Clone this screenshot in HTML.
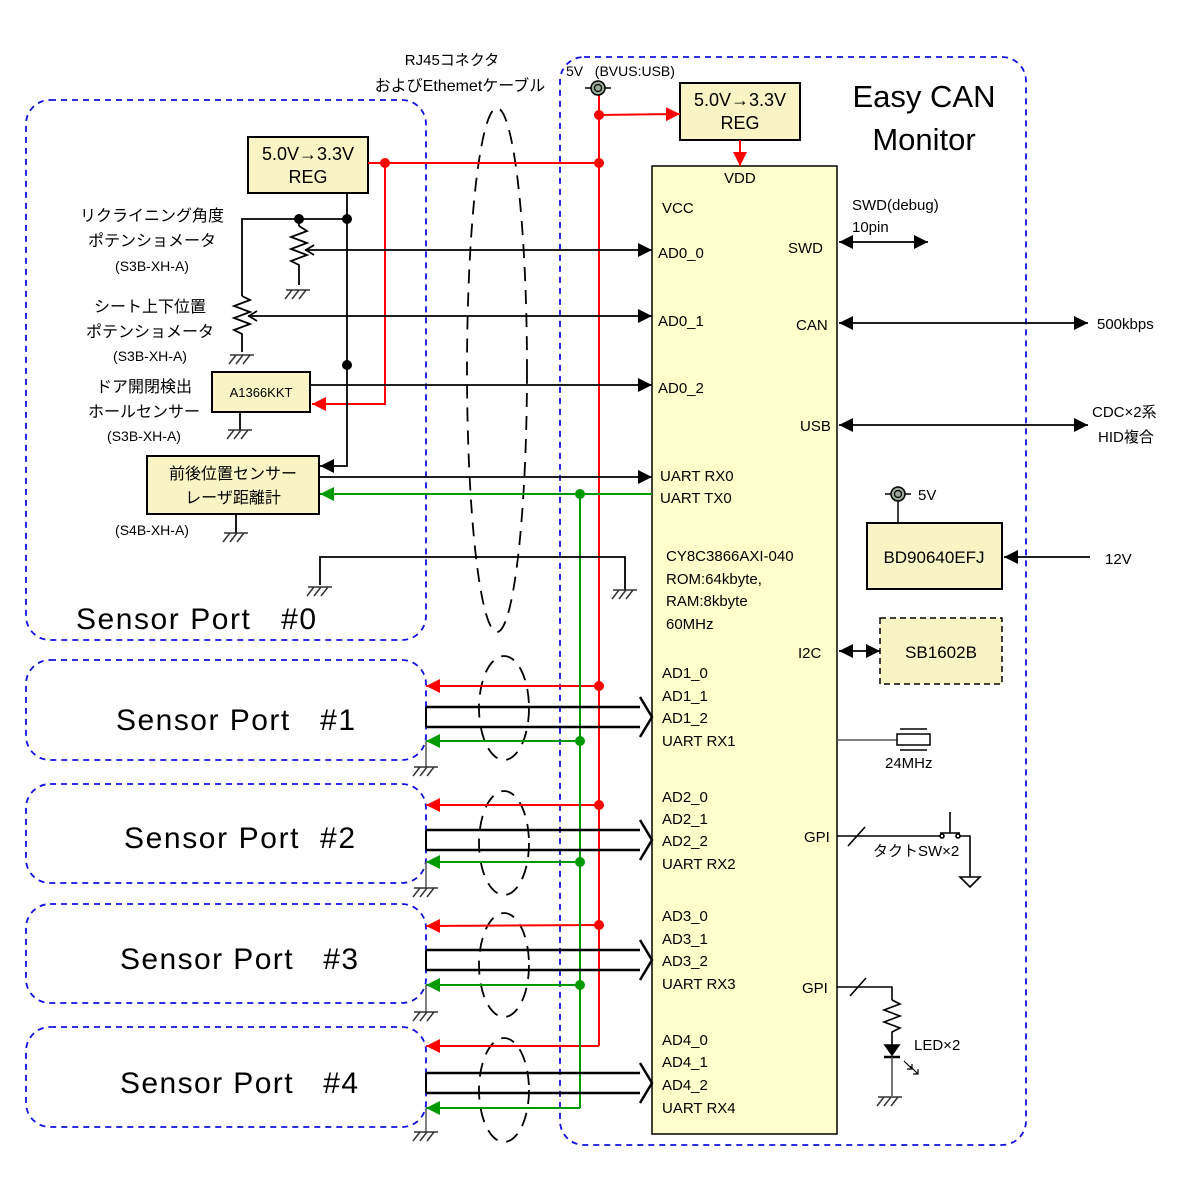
<!DOCTYPE html>
<html><head><meta charset="utf-8"><style>
html,body{margin:0;padding:0;background:#fff}
svg{display:block}
text{font-family:"Liberation Sans","Noto Sans CJK JP",sans-serif;fill:#000;white-space:pre}
</style></head><body>
<svg width="1184" height="1184" viewBox="0 0 1184 1184" xmlns="http://www.w3.org/2000/svg" xml:space="preserve">
<defs>
<marker id="aB" viewBox="0 0 10 10" refX="10" refY="5" markerWidth="14" markerHeight="14" markerUnits="userSpaceOnUse" orient="auto-start-reverse"><path d="M0,0L10,5L0,10z" fill="#000"/></marker>
<marker id="aR" viewBox="0 0 10 10" refX="10" refY="5" markerWidth="14" markerHeight="14" markerUnits="userSpaceOnUse" orient="auto-start-reverse"><path d="M0,0L10,5L0,10z" fill="#f00"/></marker>
<marker id="aG" viewBox="0 0 10 10" refX="10" refY="5" markerWidth="14" markerHeight="14" markerUnits="userSpaceOnUse" orient="auto-start-reverse"><path d="M0,0L10,5L0,10z" fill="#090"/></marker>
<g id="gnd"><path d="M-12,0H12M-6,0l-7,9M1,0l-7,9M8,0l-7,9" stroke="#333" stroke-width="1.5" fill="none"/></g>
<g id="src"><line x1="-13" y1="0" x2="13" y2="0" stroke="#000" stroke-width="1.5"/><circle r="7" fill="#9a9" stroke="#000" stroke-width="1.5"/><circle r="3.5" fill="#9a9" stroke="#000" stroke-width="1.2"/></g>
<g id="big"><path d="M0,0H214M0,20H214M214,-10L226,10L214,30" fill="none" stroke="#000" stroke-width="2.5"/><line x1="0" y1="0" x2="0" y2="20" stroke="#000" stroke-width="2"/></g>
</defs>

<g fill="none" stroke="#1010e0" stroke-width="1.8" stroke-dasharray="6,5">
<rect x="26" y="100" width="400" height="540" rx="24"/>
<rect x="26" y="660" width="400" height="100" rx="24"/>
<rect x="26" y="784" width="400" height="99" rx="24"/>
<rect x="26" y="904" width="400" height="99" rx="24"/>
<rect x="26" y="1027" width="400" height="100" rx="24"/>
<rect x="560" y="57" width="466" height="1088" rx="24"/>
</g>

<g fill="none" stroke="#000" stroke-width="1.8" stroke-dasharray="14,9">
<ellipse cx="497" cy="370" rx="30" ry="262"/>
<ellipse cx="504" cy="708" rx="25" ry="52"/>
<ellipse cx="504" cy="843" rx="25" ry="52"/>
<ellipse cx="504" cy="965" rx="25" ry="52"/>
<ellipse cx="504" cy="1090" rx="25" ry="52"/>
</g>

<rect x="652" y="166" width="185" height="968" fill="#ffffcc" stroke="#000" stroke-width="1.5"/>
<rect x="248" y="137" width="120" height="56" fill="#f8f4c4" stroke="#000" stroke-width="2"/>
<text x="308" y="160" font-size="18" text-anchor="middle">5.0V→3.3V</text>
<text x="308" y="183" font-size="18" text-anchor="middle">REG</text>
<rect x="680" y="83" width="120" height="57" fill="#f8f4c4" stroke="#000" stroke-width="2"/>
<text x="740" y="106" font-size="18" text-anchor="middle">5.0V→3.3V</text>
<text x="740" y="129" font-size="18" text-anchor="middle">REG</text>
<rect x="212" y="372" width="98" height="40" fill="#f8f4c4" stroke="#000" stroke-width="2"/>
<text x="261" y="397" font-size="13" text-anchor="middle">A1366KKT</text>
<rect x="147" y="456" width="172" height="58" fill="#f8f4c4" stroke="#000" stroke-width="2"/>
<text x="233" y="479" font-size="16" text-anchor="middle">前後位置センサー</text>
<text x="233" y="503" font-size="16" text-anchor="middle">レーザ距離計</text>
<rect x="867" y="523" width="135" height="66" fill="#f8f4c4" stroke="#000" stroke-width="2"/>
<text x="934" y="563" font-size="17" text-anchor="middle">BD90640EFJ</text>
<rect x="880" y="618" width="122" height="66" fill="#f8f4c4" stroke="#000" stroke-width="1.5" stroke-dasharray="6,4"/>
<text x="941" y="658" font-size="17" text-anchor="middle">SB1602B</text>

<g stroke="#f00" stroke-width="2" fill="none">
<line x1="368" y1="163" x2="599" y2="163"/>
<line x1="599" y1="95" x2="599" y2="1046"/>
<line x1="599" y1="115" x2="680" y2="114" marker-end="url(#aR)"/>
<line x1="740" y1="140" x2="740" y2="166" marker-end="url(#aR)"/>
<polyline points="385,163 385,404 312,404" marker-end="url(#aR)"/>
<line x1="599" y1="686" x2="426" y2="686" marker-end="url(#aR)"/>
<line x1="599" y1="805" x2="426" y2="805" marker-end="url(#aR)"/>
<line x1="599" y1="925" x2="426" y2="926" marker-end="url(#aR)"/>
<polyline points="599,1046 426,1046" marker-end="url(#aR)"/>
</g>
<g fill="#f00"><circle cx="599" cy="115" r="5"/><circle cx="599" cy="163" r="5"/><circle cx="385" cy="163" r="5"/><circle cx="599" cy="686" r="5"/><circle cx="599" cy="805" r="5"/><circle cx="599" cy="925" r="5"/></g>

<g stroke="#090" stroke-width="2" fill="none">
<line x1="652" y1="494" x2="320" y2="494" marker-end="url(#aG)"/>
<line x1="580" y1="494" x2="580" y2="1108"/>
<line x1="580" y1="741" x2="426" y2="741" marker-end="url(#aG)"/>
<line x1="580" y1="862" x2="426" y2="862" marker-end="url(#aG)"/>
<line x1="580" y1="985" x2="426" y2="985" marker-end="url(#aG)"/>
<line x1="580" y1="1108" x2="426" y2="1108" marker-end="url(#aG)"/>
</g>
<g fill="#090"><circle cx="580" cy="494" r="5"/><circle cx="580" cy="741" r="5"/><circle cx="580" cy="862" r="5"/><circle cx="580" cy="985" r="5"/></g>

<g stroke="#000" stroke-width="1.8" fill="none">
<polyline points="347,193 347,466 320,466" marker-end="url(#aB)"/>
<polyline points="347,219 242,219 242,296"/>
<line x1="299" y1="219" x2="299" y2="226"/>
<path d="M299,226l8,5l-16,6l16,6l-16,6l16,6l-16,6l8,4v20"/>
<path d="M242,296l8,4l-16,6l16,6l-16,6l16,6l-16,6l8,4v18"/>
<line x1="305" y1="250" x2="652" y2="250" marker-end="url(#aB)"/>
<path d="M314,245l-8,5l8,5"/>
<line x1="248" y1="316" x2="652" y2="316" marker-end="url(#aB)"/>
<path d="M257,311l-8,5l8,5"/>
<line x1="310" y1="385" x2="652" y2="385" marker-end="url(#aB)"/>
<line x1="320" y1="477" x2="652" y2="477" marker-end="url(#aB)"/>
<polyline points="320,585 320,557 625,557 625,590"/>
<line x1="240" y1="412" x2="240" y2="430"/>
<line x1="236" y1="514" x2="236" y2="533"/>
</g>
<g fill="#000"><circle cx="347" cy="219" r="5"/><circle cx="299" cy="219" r="5"/><circle cx="347" cy="365" r="5"/></g>
<use href="#gnd" x="298" y="290"/><use href="#gnd" x="242" y="355"/><use href="#gnd" x="240" y="430"/><use href="#gnd" x="236" y="533"/>
<use href="#gnd" x="320" y="587"/><use href="#gnd" x="625" y="590"/>
<g stroke="#555" stroke-width="1.5"><line x1="426" y1="741" x2="426" y2="767"/><line x1="426" y1="862" x2="426" y2="888"/><line x1="426" y1="985" x2="426" y2="1012"/><line x1="426" y1="1108" x2="426" y2="1132"/></g>
<use href="#gnd" x="426" y="767"/><use href="#gnd" x="426" y="888"/><use href="#gnd" x="426" y="1012"/><use href="#gnd" x="426" y="1132"/>

<use href="#big" x="426" y="707"/><use href="#big" x="426" y="830"/><use href="#big" x="426" y="950"/><use href="#big" x="426" y="1073"/>

<use href="#src" x="598" y="88"/>
<use href="#src" x="898" y="494"/>
<line x1="898" y1="501" x2="898" y2="523" stroke="#000" stroke-width="1.5"/>

<g stroke="#000" stroke-width="1.8" fill="none">
<line x1="839" y1="242" x2="928" y2="242" marker-start="url(#aB)" marker-end="url(#aB)"/>
<line x1="839" y1="323" x2="1088" y2="323" marker-start="url(#aB)" marker-end="url(#aB)"/>
<line x1="839" y1="425" x2="1088" y2="425" marker-start="url(#aB)" marker-end="url(#aB)"/>
<line x1="1090" y1="557" x2="1004" y2="557" marker-end="url(#aB)"/>
<line x1="839" y1="651" x2="880" y2="651" marker-start="url(#aB)" marker-end="url(#aB)"/>
</g>
<g stroke="#555" stroke-width="1.5" fill="none">
<line x1="837" y1="740" x2="897" y2="740"/>
<rect x="897" y="734" width="33" height="11" stroke="#000"/>
<line x1="900" y1="729" x2="927" y2="729" stroke="#000"/><line x1="900" y1="750" x2="927" y2="750" stroke="#000"/>
</g>
<g stroke="#000" stroke-width="1.6" fill="none">
<line x1="837" y1="836" x2="940" y2="836"/>
<line x1="848" y1="846" x2="865" y2="827"/>
<circle cx="942" cy="836" r="2"/><circle cx="958" cy="836" r="2"/>
<path d="M940,833H960M950,833V812"/>
<polyline points="960,836 970,836 970,877"/>
<path d="M960,877H980L970,887z"/>
<polyline points="837,987 892,987 892,1000"/>
<line x1="850" y1="996" x2="866" y2="978"/>
<path d="M892,1000l8,4l-16,6l16,6l-16,6l16,6l-8,4v16"/>
<path d="M885,1045H899L892,1055z" fill="#000"/>
<line x1="884" y1="1057" x2="900" y2="1057" stroke-width="2.5"/>
<line x1="892" y1="1057" x2="892" y2="1096" stroke="#555"/>
<path d="M904,1061l8,8M907,1069h5v-5M910,1066l8,8M913,1074h5v-5" stroke-width="1.2"/>
</g>
<use href="#gnd" x="890" y="1097"/>

<g font-size="15">
<text x="724" y="183">VDD</text>
<text x="662" y="213">VCC</text>
<text x="658" y="258">AD0_0</text>
<text x="658" y="326">AD0_1</text>
<text x="658" y="393">AD0_2</text>
<text x="660" y="481">UART RX0</text>
<text x="660" y="503">UART TX0</text>
<text x="666" y="561">CY8C3866AXI-040</text>
<text x="666" y="584">ROM:64kbyte,</text>
<text x="666" y="606">RAM:8kbyte</text>
<text x="666" y="629">60MHz</text>
<text x="662" y="678">AD1_0</text><text x="662" y="701">AD1_1</text><text x="662" y="723">AD1_2</text><text x="662" y="746">UART RX1</text>
<text x="662" y="802">AD2_0</text><text x="662" y="824">AD2_1</text><text x="662" y="846">AD2_2</text><text x="662" y="869">UART RX2</text>
<text x="662" y="921">AD3_0</text><text x="662" y="944">AD3_1</text><text x="662" y="966">AD3_2</text><text x="662" y="989">UART RX3</text>
<text x="662" y="1045">AD4_0</text><text x="662" y="1067">AD4_1</text><text x="662" y="1090">AD4_2</text><text x="662" y="1113">UART RX4</text>
<text x="788" y="253">SWD</text>
<text x="796" y="330">CAN</text>
<text x="800" y="431">USB</text>
<text x="798" y="658">I2C</text>
<text x="804" y="842">GPI</text>
<text x="802" y="993">GPI</text>
<text x="852" y="210">SWD(debug)</text>
<text x="852" y="232">10pin</text>
<text x="1097" y="329">500kbps</text>
<text x="1092" y="417">CDC×2系</text>
<text x="1098" y="442">HID複合</text>
<text x="918" y="500">5V</text>
<text x="1105" y="564">12V</text>
<text x="885" y="768">24MHz</text>
<text x="873" y="856">タクトSW×2</text>
<text x="914" y="1050">LED×2</text>
<text x="566" y="76" font-size="14">5V   (BVUS:USB)</text>
<text x="452" y="65" font-size="15" text-anchor="middle">RJ45コネクタ</text>
<text x="460" y="91" font-size="16" text-anchor="middle">およびEthemetケーブル</text>
<text x="152" y="221" text-anchor="middle" font-size="16">リクライニング角度</text>
<text x="152" y="246" text-anchor="middle" font-size="16">ポテンショメータ</text>
<text x="152" y="271" text-anchor="middle" font-size="14">(S3B-XH-A)</text>
<text x="150" y="312" text-anchor="middle" font-size="16">シート上下位置</text>
<text x="150" y="337" text-anchor="middle" font-size="16">ポテンショメータ</text>
<text x="150" y="361" text-anchor="middle" font-size="14">(S3B-XH-A)</text>
<text x="144" y="392" text-anchor="middle" font-size="16">ドア開閉検出</text>
<text x="144" y="417" text-anchor="middle" font-size="16">ホールセンサー</text>
<text x="144" y="441" text-anchor="middle" font-size="14">(S3B-XH-A)</text>
<text x="152" y="535" text-anchor="middle" font-size="14">(S4B-XH-A)</text>
</g>
<text x="924" y="107" font-size="31" text-anchor="middle">Easy CAN</text>
<text x="924" y="150" font-size="31" text-anchor="middle">Monitor</text>
<g font-size="30">
<text x="76" y="629" textLength="240">Sensor Port   #0</text>
<text x="116" y="730" textLength="239">Sensor Port   #1</text>
<text x="124" y="848" textLength="231">Sensor Port  #2</text>
<text x="120" y="969" textLength="238">Sensor Port   #3</text>
<text x="120" y="1093" textLength="238">Sensor Port   #4</text>
</g>
</svg>
</body></html>
